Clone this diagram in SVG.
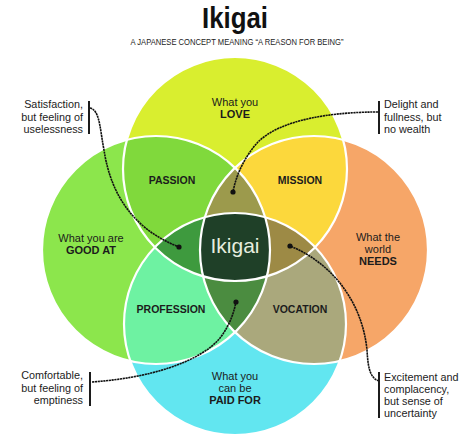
<svg xmlns="http://www.w3.org/2000/svg" width="474" height="440" viewBox="0 0 474 440">
<style>
.t{font-family:"Liberation Sans",Arial,sans-serif;fill:#1c1c1c;font-size:11px}
.n{font-size:10.8px}
.p{font-size:10.5px}
.b{font-weight:bold}
.c{text-anchor:middle}
.r{text-anchor:end}
.edge{fill:none;stroke:#fff;stroke-width:2.2}
.conn{fill:none;stroke:#111;stroke-width:1.6;stroke-dasharray:2.2 0.6}
.bar{stroke:#1c1c1c;stroke-width:2}
</style>
<defs>
<clipPath id="cT"><circle cx="235" cy="169" r="112"/></clipPath>
<clipPath id="cB"><circle cx="235" cy="324" r="111"/></clipPath>
<clipPath id="cL"><circle cx="156" cy="250" r="114"/></clipPath>
<clipPath id="cR"><circle cx="314" cy="250" r="114"/></clipPath>
</defs>
<rect width="474" height="440" fill="#fff"/>
<g id="title">
<text x="235" y="28" class="t b c" style="font-size:30px;fill:#111" textLength="66" lengthAdjust="spacingAndGlyphs">Ikigai</text>
<text x="237" y="45" class="t c" style="font-size:8.3px" textLength="213" lengthAdjust="spacingAndGlyphs">A JAPANESE CONCEPT MEANING “A REASON FOR BEING”</text>
</g>
<g id="love"><circle cx="235" cy="169" r="112" fill="#d9ee2f"/></g>
<g id="good-at"><circle cx="156" cy="250" r="114" fill="#8ce64c"/></g>
<g id="needs"><circle cx="314" cy="250" r="114" fill="#f6a668"/></g>
<g id="paid-for"><circle cx="235" cy="324" r="111" fill="#62e6f0"/></g>
<g id="passion"><circle cx="156" cy="250" r="114" fill="#80d93c" clip-path="url(#cT)"/></g>
<g id="mission"><circle cx="314" cy="250" r="114" fill="#fcd83c" clip-path="url(#cT)"/></g>
<g id="profession"><circle cx="156" cy="250" r="114" fill="#6ef2a2" clip-path="url(#cB)"/></g>
<g id="vocation"><circle cx="314" cy="250" r="114" fill="#aaa87c" clip-path="url(#cB)"/></g>
<g id="lens-top" clip-path="url(#cT)"><circle cx="314" cy="250" r="114" fill="#9c9a4c" clip-path="url(#cL)"/></g>
<g id="lens-bottom" clip-path="url(#cB)"><circle cx="314" cy="250" r="114" fill="#4b8c40" clip-path="url(#cL)"/></g>
<g id="lens-left" clip-path="url(#cT)"><circle cx="235" cy="324" r="111" fill="#3e9a3e" clip-path="url(#cL)"/></g>
<g id="lens-right" clip-path="url(#cT)"><circle cx="235" cy="324" r="111" fill="#9d8a45" clip-path="url(#cR)"/></g>
<g id="ikigai-center" clip-path="url(#cT)"><g clip-path="url(#cB)"><circle cx="314" cy="250" r="114" fill="#1f4028" clip-path="url(#cL)"/></g></g>
<g id="borders">
<circle class="edge" cx="235" cy="169" r="112"/>
<circle class="edge" cx="235" cy="324" r="111"/>
<circle class="edge" cx="156" cy="250" r="114"/>
<circle class="edge" cx="314" cy="250" r="114"/>
</g>
<g id="labels">
<text x="235" y="253" class="t c" style="font-size:21px;fill:#e6eedf">Ikigai</text>
<text x="235" y="106" class="t c">What you</text>
<text x="235" y="118" class="t b c">LOVE</text>
<text x="91" y="242" class="t c">What you are</text>
<text x="91" y="254" class="t b c">GOOD AT</text>
<text x="378" y="241" class="t c">What the</text>
<text x="378" y="253" class="t c">world</text>
<text x="378" y="265" class="t b c">NEEDS</text>
<text x="235" y="380" class="t c">What you</text>
<text x="235" y="392" class="t c">can be</text>
<text x="235" y="404" class="t b c">PAID FOR</text>
<text x="172" y="184" class="t b c p">PASSION</text>
<text x="300" y="184" class="t b c p">MISSION</text>
<text x="171" y="313" class="t b c p">PROFESSION</text>
<text x="300" y="313" class="t b c p">VOCATION</text>
</g>
<g id="connectors">
<path class="conn" d="M90,108 C100,110 100,130 104,150 C110,190 130,228 179,247"/>
<path class="conn" d="M378,112 C330,112 280,120 258,142 C245,156 236,175 233,192"/>
<path class="conn" d="M92,382 C150,378 200,362 220,338 C230,325 234,312 236,302"/>
<path class="conn" d="M379,381 C370,378 368,368 367,350 C362,300 330,262 290,246"/>
<circle cx="179" cy="247" r="2.6" fill="#111"/>
<circle cx="233" cy="192" r="2.6" fill="#111"/>
<circle cx="236" cy="302" r="2.6" fill="#111"/>
<circle cx="290" cy="246" r="2.6" fill="#111"/>
</g>
<g id="note-satisfaction">
<line class="bar" x1="89" y1="101" x2="89" y2="134"/>
<text x="83" y="108" class="t r n">Satisfaction,</text>
<text x="83" y="120.5" class="t r n">but feeling of</text>
<text x="83" y="133" class="t r n">uselessness</text>
</g>
<g id="note-delight">
<line class="bar" x1="379" y1="101" x2="379" y2="134"/>
<text x="384" y="108" class="t n">Delight and</text>
<text x="384" y="120.5" class="t n">fullness, but</text>
<text x="384" y="133" class="t n">no wealth</text>
</g>
<g id="note-comfortable">
<line class="bar" x1="90" y1="372" x2="90" y2="406"/>
<text x="83" y="379" class="t r n">Comfortable,</text>
<text x="83" y="391.5" class="t r n">but feeling of</text>
<text x="83" y="404" class="t r n">emptiness</text>
</g>
<g id="note-excitement">
<line class="bar" x1="379" y1="372" x2="379" y2="418"/>
<text x="384" y="381" class="t n">Excitement and</text>
<text x="384" y="393" class="t n">complacency,</text>
<text x="384" y="405" class="t n">but sense of</text>
<text x="384" y="417" class="t n">uncertainty</text>
</g>
</svg>
